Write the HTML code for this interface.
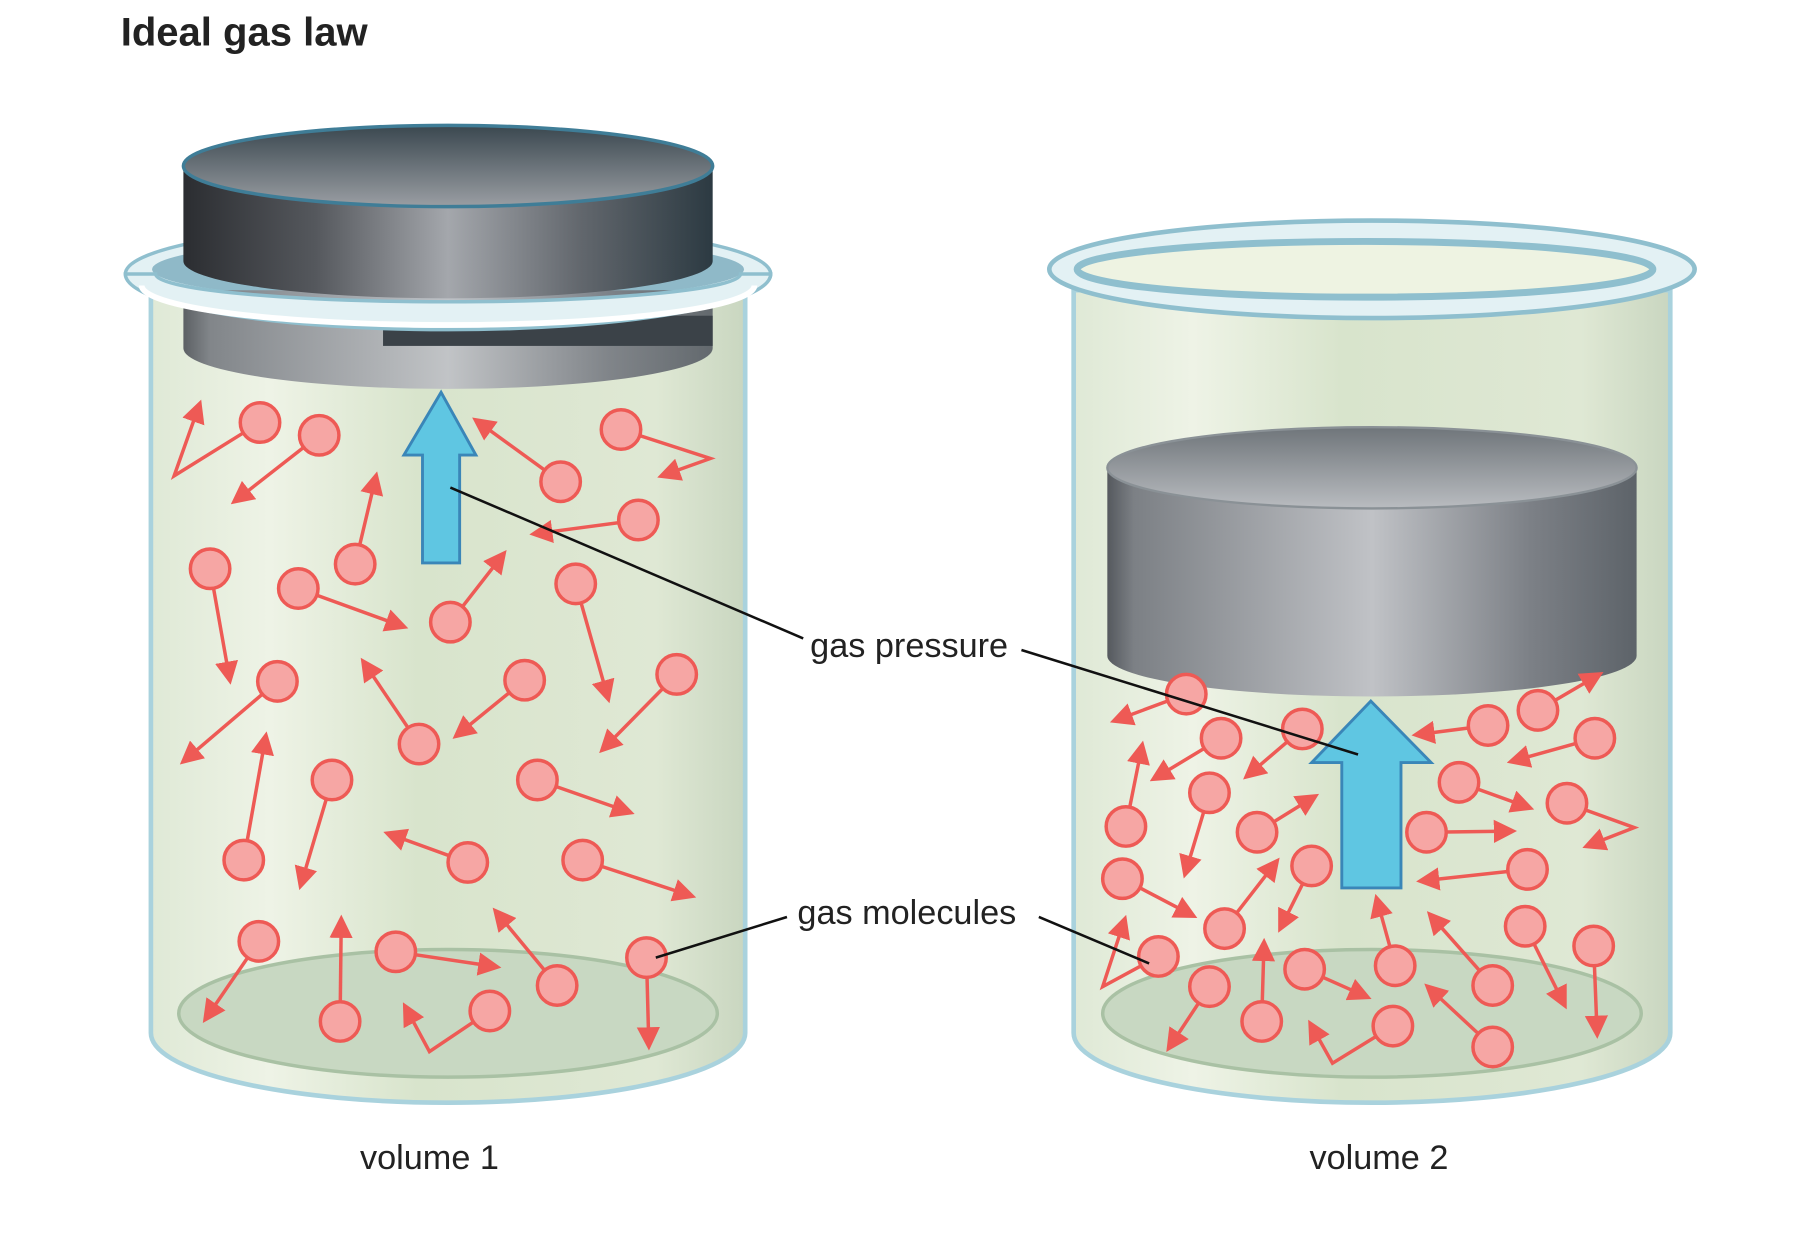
<!DOCTYPE html>
<html><head><meta charset="utf-8"><style>
html,body{margin:0;padding:0;background:#fff;}
svg{display:block;}
text{font-family:"Liberation Sans",sans-serif;}
</style></head><body>
<svg width="1820" height="1242" viewBox="0 0 1568 1070" xmlns="http://www.w3.org/2000/svg">
<defs>
<linearGradient id="dark" x1="0" x2="1" y1="0" y2="0">
<stop offset="0" stop-color="#2b2d31"/><stop offset="0.25" stop-color="#55585d"/><stop offset="0.5" stop-color="#a4a7ac"/><stop offset="0.75" stop-color="#62676d"/><stop offset="1" stop-color="#2c3a42"/></linearGradient>
<linearGradient id="darktop" x1="0" x2="0" y1="0" y2="1">
<stop offset="0" stop-color="#3a474f"/><stop offset="1" stop-color="#9a9ea3"/></linearGradient>
<linearGradient id="grey" x1="0" x2="1" y1="0" y2="0">
<stop offset="0" stop-color="#55595e"/><stop offset="0.05" stop-color="#7c8085"/><stop offset="0.5" stop-color="#c0c2c6"/><stop offset="0.8" stop-color="#7c8086"/><stop offset="1" stop-color="#5d6369"/></linearGradient>
<linearGradient id="greytop" x1="0" x2="0" y1="0" y2="1">
<stop offset="0" stop-color="#6f757a"/><stop offset="1" stop-color="#b9bcc0"/></linearGradient>
<linearGradient id="glass" x1="0" x2="1" y1="0" y2="0">
<stop offset="0" stop-color="#dfe9d6"/><stop offset="0.2" stop-color="#eef3e6"/><stop offset="0.45" stop-color="#d8e4cc"/><stop offset="0.85" stop-color="#dfe8d4"/><stop offset="1" stop-color="#c9d6c0"/></linearGradient>
<marker id="ah2" viewBox="0 0 10 10" refX="8" refY="5" markerWidth="20" markerHeight="20" orient="auto" markerUnits="userSpaceOnUse">
<path d="M0,0 L10,5 L0,10 z" fill="#ee5a55"/></marker>
</defs>

<text x="104" y="39" font-size="34.5" font-weight="bold" fill="#222">Ideal gas law</text>

<!-- LEFT JAR -->
<g>
<path d="M130,250 L130,890 A256,60 0 0 0 642,890 L642,250 Z" fill="url(#glass)" stroke="#a9d2dd" stroke-width="4"/>
<ellipse cx="386" cy="873" rx="232" ry="55" fill="#c8d8c2" stroke="#a9c1a4" stroke-width="3"/>
<ellipse cx="386" cy="236" rx="278" ry="44" fill="#e3f1f4" stroke="#8fbfce" stroke-width="3"/>
<ellipse cx="386" cy="232" rx="255" ry="28" fill="#8fb9c8"/>
<path d="M158,250 L158,300 A228,35 0 0 0 614,300 L614,250 Z" fill="url(#grey)" opacity="0.95"/>
<rect x="330" y="272" width="284" height="26" fill="#3b4248"/>
<path d="M158,143 L158,225 A228,32 0 0 0 614,225 L614,143 Z" fill="url(#dark)"/>
<ellipse cx="386" cy="143" rx="228" ry="35" fill="url(#darktop)" stroke="#3f7d97" stroke-width="3"/>
<path d="M108,236 A278,48 0 0 0 664,236 L638,236 A252,24 0 0 1 134,236 Z" fill="#e3f1f4" stroke="#8fbfce" stroke-width="3"/>
<path d="M122,246 A264,34 0 0 0 650,246" fill="none" stroke="#ffffff" stroke-width="5"/>
</g>

<!-- RIGHT JAR -->
<g>
<path d="M925,250 L925,890 A257,60 0 0 0 1439,890 L1439,250 Z" fill="url(#glass)" stroke="#a9d2dd" stroke-width="4"/>
<ellipse cx="1182" cy="873" rx="232" ry="55" fill="#c8d8c2" stroke="#a9c1a4" stroke-width="3"/>
<ellipse cx="1182" cy="232" rx="278" ry="42" fill="#e3f1f4" stroke="#8fbfce" stroke-width="4"/>
<ellipse cx="1176" cy="232" rx="248" ry="24" fill="#eef3e2" stroke="#8fbfce" stroke-width="6"/>
<path d="M954,403 L954,565 A228,35 0 0 0 1410,565 L1410,403 Z" fill="url(#grey)"/>
<ellipse cx="1182" cy="403" rx="228" ry="35" fill="url(#greytop)" stroke="#8a9196" stroke-width="2"/>
</g>

<!-- molecules -->
<g stroke="#ee5a55" stroke-width="3" fill="none" marker-end="url(#ah2)">
<polyline points="224,364 150,410 172,348"/>
<line x1="275" y1="375" x2="202" y2="432"/>
<line x1="483" y1="415" x2="410" y2="362"/>
<polyline points="535,370 612,395 570,410"/>
<line x1="550" y1="448" x2="460" y2="460"/>
<line x1="306" y1="486" x2="324" y2="410"/>
<line x1="181" y1="490" x2="198" y2="586"/>
<line x1="257" y1="507" x2="348" y2="540"/>
<line x1="388" y1="536" x2="434" y2="477"/>
<line x1="496" y1="503" x2="524" y2="602"/>
<line x1="239" y1="587" x2="158" y2="656"/>
<line x1="361" y1="641" x2="313" y2="570"/>
<line x1="452" y1="586" x2="393" y2="634"/>
<line x1="583" y1="581" x2="519" y2="646"/>
<line x1="210" y1="741" x2="229" y2="634"/>
<line x1="286" y1="672" x2="259" y2="763"/>
<line x1="463" y1="672" x2="543" y2="700"/>
<line x1="403" y1="743" x2="334" y2="718"/>
<line x1="502" y1="741" x2="596" y2="772"/>
<line x1="223" y1="811" x2="177" y2="878"/>
<line x1="293" y1="880" x2="294" y2="792"/>
<line x1="341" y1="820" x2="428" y2="833"/>
<polyline points="422,871 370,906 349,867"/>
<line x1="480" y1="849" x2="427" y2="785"/>
<line x1="557" y1="825" x2="559" y2="901"/>

<line x1="1022" y1="598" x2="960" y2="621"/>
<line x1="1052" y1="636" x2="994" y2="671"/>
<line x1="1122" y1="628" x2="1074" y2="669"/>
<line x1="1282" y1="625" x2="1220" y2="633"/>
<line x1="1325" y1="612" x2="1378" y2="581"/>
<line x1="1374" y1="636" x2="1302" y2="656"/>
<line x1="970" y1="712" x2="984" y2="642"/>
<line x1="1042" y1="683" x2="1021" y2="753"/>
<line x1="1083" y1="717" x2="1133" y2="686"/>
<line x1="1257" y1="674" x2="1318" y2="696"/>
<polyline points="1350,692 1408,713 1367,729"/>
<line x1="1229" y1="717" x2="1303" y2="716"/>
<line x1="967" y1="757" x2="1028" y2="789"/>
<line x1="1130" y1="746" x2="1103" y2="800"/>
<line x1="1316" y1="749" x2="1224" y2="759"/>
<line x1="1055" y1="800" x2="1100" y2="742"/>
<polyline points="998,824 950,850 969,792"/>
<line x1="1042" y1="850" x2="1007" y2="903"/>
<line x1="1087" y1="880" x2="1089" y2="812"/>
<line x1="1124" y1="835" x2="1178" y2="859"/>
<line x1="1202" y1="832" x2="1186" y2="774"/>
<line x1="1286" y1="849" x2="1232" y2="788"/>
<line x1="1314" y1="798" x2="1348" y2="866"/>
<line x1="1373" y1="815" x2="1376" y2="891"/>
<polyline points="1200,884 1148,916 1129,882"/>
<line x1="1286" y1="902" x2="1230" y2="850"/>
</g>
<g fill="#f6a6a4" stroke="#ee5a55" stroke-width="3">
<circle cx="224" cy="364" r="17"/><circle cx="275" cy="375" r="17"/><circle cx="483" cy="415" r="17"/><circle cx="535" cy="370" r="17"/><circle cx="550" cy="448" r="17"/><circle cx="306" cy="486" r="17"/><circle cx="181" cy="490" r="17"/><circle cx="257" cy="507" r="17"/><circle cx="388" cy="536" r="17"/><circle cx="496" cy="503" r="17"/><circle cx="239" cy="587" r="17"/><circle cx="361" cy="641" r="17"/><circle cx="452" cy="586" r="17"/><circle cx="583" cy="581" r="17"/><circle cx="210" cy="741" r="17"/><circle cx="286" cy="672" r="17"/><circle cx="463" cy="672" r="17"/><circle cx="403" cy="743" r="17"/><circle cx="502" cy="741" r="17"/><circle cx="223" cy="811" r="17"/><circle cx="293" cy="880" r="17"/><circle cx="341" cy="820" r="17"/><circle cx="422" cy="871" r="17"/><circle cx="480" cy="849" r="17"/><circle cx="557" cy="825" r="17"/>
<circle cx="1022" cy="598" r="17"/><circle cx="1052" cy="636" r="17"/><circle cx="1122" cy="628" r="17"/><circle cx="1282" cy="625" r="17"/><circle cx="1325" cy="612" r="17"/><circle cx="1374" cy="636" r="17"/><circle cx="970" cy="712" r="17"/><circle cx="1042" cy="683" r="17"/><circle cx="1083" cy="717" r="17"/><circle cx="1257" cy="674" r="17"/><circle cx="1350" cy="692" r="17"/><circle cx="1229" cy="717" r="17"/><circle cx="967" cy="757" r="17"/><circle cx="1130" cy="746" r="17"/><circle cx="1316" cy="749" r="17"/><circle cx="1055" cy="800" r="17"/><circle cx="998" cy="824" r="17"/><circle cx="1042" cy="850" r="17"/><circle cx="1087" cy="880" r="17"/><circle cx="1124" cy="835" r="17"/><circle cx="1202" cy="832" r="17"/><circle cx="1286" cy="849" r="17"/><circle cx="1314" cy="798" r="17"/><circle cx="1373" cy="815" r="17"/><circle cx="1200" cy="884" r="17"/><circle cx="1286" cy="902" r="17"/>
</g>

<!-- blue arrows -->
<path d="M364,485 L364,392 L348,392 L380,338 L410,392 L396,392 L396,485 Z" fill="#5fc6e2" stroke="#3a86b8" stroke-width="2.5"/>
<path d="M1156,765 L1156,657 L1130,657 L1181,604 L1233,657 L1207,657 L1207,765 Z" fill="#5fc6e2" stroke="#3a86b8" stroke-width="2.5"/>

<!-- leaders -->
<g stroke="#111" stroke-width="2.2">
<line x1="388" y1="420" x2="692" y2="550"/>
<line x1="880" y1="560" x2="1170" y2="650"/>
<line x1="678" y1="790" x2="565" y2="825"/>
<line x1="895" y1="790" x2="990" y2="830"/>
</g>
<g font-size="29.5" fill="#222">
<text x="698" y="566">gas pressure</text>
<text x="687" y="796">gas molecules</text>
<text x="370" y="1007" text-anchor="middle">volume 1</text>
<text x="1188" y="1007" text-anchor="middle">volume 2</text>
</g>
</svg>
</body></html>
